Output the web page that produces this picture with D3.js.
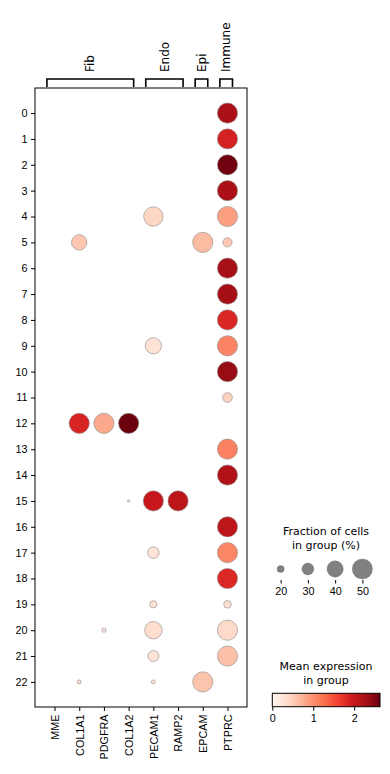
<!DOCTYPE html>
<html>
<head>
<meta charset="utf-8">
<script src="https://cdn.jsdelivr.net/npm/d3@7"></script>
<style>
  body { margin: 0; background: #fff; }
  svg { display: block; font-family: "DejaVu Sans", sans-serif; }
</style>
</head>
<body>
<svg id="chart" width="390" height="774"></svg>
<script>
// clusters (rows) and marker genes (columns)
const clusters = ["0","1","2","3","4","5","6","7","8","9","10","11","12","13","14","15","16","17","18","19","20","21","22"];
const genes = ["MME", "COL1A1", "PDGFRA", "COL1A2", "PECAM1", "RAMP2", "EPCAM", "PTPRC"];

// gene groups: label, first gene, last gene
const groupLabels = ["Fib", "Endo", "Epi", "Immune"];
const groupStart = ["MME", "PECAM1", "EPCAM", "PTPRC"];
const groupEnd = ["COL1A2", "RAMP2", "EPCAM", "PTPRC"];

// fraction of cells expressing (%), one row per cluster, columns = genes
const fraction = [
	[0, 0, 0, 0, 0, 0, 0, 50],
	[0, 0, 0, 0, 0, 0, 0, 50],
	[0, 0, 0, 0, 0, 0, 0, 50],
	[0, 0, 0, 0, 0, 0, 0, 50],
	[0, 0, 0, 0, 48, 0, 0, 50],
	[0, 38, 0, 0, 0, 0, 50, 24],
	[0, 0, 0, 0, 0, 0, 0, 50],
	[0, 0, 0, 0, 0, 0, 0, 50],
	[0, 0, 0, 0, 0, 0, 0, 50],
	[0, 0, 0, 0, 40, 0, 0, 50],
	[0, 0, 0, 0, 0, 0, 0, 50],
	[0, 0, 0, 0, 0, 0, 0, 25],
	[0, 50, 50, 50, 0, 0, 0, 0],
	[0, 0, 0, 0, 0, 0, 0, 50],
	[0, 0, 0, 0, 0, 0, 0, 50],
	[0, 0, 0, 12.5, 50, 50, 0, 0],
	[0, 0, 0, 0, 0, 0, 0, 50],
	[0, 0, 0, 0, 29, 0, 0, 50],
	[0, 0, 0, 0, 0, 0, 0, 50],
	[0, 0, 0, 0, 20, 0, 0, 21],
	[0, 0, 15, 0, 43, 0, 0, 50],
	[0, 0, 0, 0, 28, 0, 0, 50],
	[0, 14.5, 0, 0, 14.5, 0, 50, 0]
];

// mean expression in group
const meanExpr = [
	[0, 0, 0, 0, 0, 0, 0, 2.25],
	[0, 0, 0, 0, 0, 0, 0, 1.89],
	[0, 0, 0, 0, 0, 0, 0, 2.59],
	[0, 0, 0, 0, 0, 0, 0, 2.26],
	[0, 0, 0, 0, 0.42, 0, 0, 0.88],
	[0, 0.55, 0, 0, 0, 0, 0.65, 0.55],
	[0, 0, 0, 0, 0, 0, 0, 2.28],
	[0, 0, 0, 0, 0, 0, 0, 2.30],
	[0, 0, 0, 0, 0, 0, 0, 1.84],
	[0, 0, 0, 0, 0.30, 0, 0, 1.10],
	[0, 0, 0, 0, 0, 0, 0, 2.37],
	[0, 0, 0, 0, 0, 0, 0, 0.45],
	[0, 1.86, 0.80, 2.61, 0, 0, 0, 0],
	[0, 0, 0, 0, 0, 0, 0, 1.13],
	[0, 0, 0, 0, 0, 0, 0, 2.20],
	[0, 0, 0, 0.30, 2.00, 2.10, 0, 0],
	[0, 0, 0, 0, 0, 0, 0, 2.10],
	[0, 0, 0, 0, 0.28, 0, 0, 1.08],
	[0, 0, 0, 0, 0, 0, 0, 1.82],
	[0, 0, 0, 0, 0.30, 0, 0, 0.33],
	[0, 0, 0.25, 0, 0.35, 0, 0, 0.38],
	[0, 0, 0, 0, 0.30, 0, 0, 0.62],
	[0, 0.30, 0, 0, 0.25, 0, 0.58, 0]
];

const sizeLegendValues = [20, 30, 40, 50];
const colorTicks = [0, 1, 2];
const colorMax = 2.63;
const redsColors = ["#fff5f0", "#fee0d2", "#fcbba1", "#fc9272", "#fb6a4a", "#ef3b2c", "#cb181d", "#a50f15", "#67000d"];

const svg = d3.select("#chart");
const FRAME = { left: 35, right: 247, top: 88, bottom: 707 };

let xScale = d3.scalePoint()
		.domain(genes)
		.range([FRAME.left, FRAME.right])
		.padding(0.79),
	yScale = d3.scalePoint()
		.domain(clusters)
		.range([FRAME.top, FRAME.bottom])
		.padding(0.97);

// matplotlib "Reds" (linear segments through the brewer colours)
const color = d3.scaleLinear()
	.domain(d3.range(redsColors.length).map(i => i * colorMax / (redsColors.length - 1)))
	.range(redsColors)
	.interpolate(d3.interpolateRgb)
	.clamp(true);

// scanpy sizing: (frac - dot_min) / (dot_max - dot_min), area ~ ^1.5
const fracNorm = d3.scaleLinear().domain([10, 50]).range([0, 1]).clamp(true);
const radius = d3.scalePow().exponent(0.75).domain([0, 1]).range([0, 10.1]);

// frame
svg.append("rect")
	.attr("x", FRAME.left).attr("y", FRAME.top)
	.attr("width", FRAME.right - FRAME.left)
	.attr("height", FRAME.bottom - FRAME.top)
	.attr("fill", "none").attr("stroke", "#000").attr("stroke-width", 1);

// dots
let dots = [];
for (let r = 0; r < clusters.length; r++) {
	for (let c = 0; c < genes.length; c++) {
		if (fraction[r][c] > 0)
			dots.push({ row: clusters[r], gene: genes[c], frac: fraction[r][c], value: meanExpr[r][c] });
	}
}

svg.append("g").selectAll("circle")
	.data(dots)
	.enter().append("circle")
	.attr("cx", d => xScale(d.gene))
	.attr("cy", d => yScale(d.row))
	.attr("r", d => Math.max(radius(fracNorm(d.frac)), 1.2))
	.attr("fill", d => color(d.value))
	.attr("stroke", "#8c8c8c")
	.attr("stroke-width", 0.6);

// axes
let yAxis = svg.append("g")
	.attr("transform", "translate(" + FRAME.left + ",0)")
	.call(d3.axisLeft(yScale).tickSize(4).tickPadding(3.5));
yAxis.select(".domain").remove();
yAxis.selectAll("text").attr("font-size", "10.8px").attr("fill", "#000");

let xAxis = svg.append("g")
	.attr("transform", "translate(0," + FRAME.bottom + ")")
	.call(d3.axisBottom(xScale).tickSize(4).tickPadding(3.5));
xAxis.select(".domain").remove();
xAxis.selectAll("text")
	.attr("font-size", "10.8px")
	.attr("fill", "#000")
	.attr("transform", "rotate(-90)")
	.attr("text-anchor", "end")
	.attr("x", -7.5)
	.attr("y", 0)
	.attr("dy", "0.35em");

// gene group brackets
const bracketTop = 79, bracketBottom = 87;
for (let i = 0; i < groupLabels.length; i++) {
	let x0 = xScale(groupStart[i]) - 7.6,
		x1 = xScale(groupEnd[i]) + 5;
	svg.append("path")
		.attr("d", "M" + x0 + "," + bracketBottom + "V" + bracketTop + "H" + x1 + "V" + bracketBottom)
		.attr("fill", "none")
		.attr("stroke", "#000")
		.attr("stroke-width", 1.6);
	let cx = (x0 + x1) / 2;
	svg.append("text")
		.attr("transform", "translate(" + cx + "," + (bracketTop - 7) + ") rotate(-90)")
		.attr("dy", "0.35em")
		.attr("font-size", "12px")
		.text(groupLabels[i]);
}

// size legend
const sizeLegend = svg.append("g");
sizeLegend.append("text")
	.attr("x", 326).attr("y", 535)
	.attr("text-anchor", "middle").attr("font-size", "11px")
	.text("Fraction of cells");
sizeLegend.append("text")
	.attr("x", 326).attr("y", 549)
	.attr("text-anchor", "middle").attr("font-size", "11px")
	.text("in group (%)");

let sizeX = d3.scalePoint()
	.domain(sizeLegendValues)
	.range([267, 376])
	.padding(0.5);

sizeLegend.selectAll("circle")
	.data(sizeLegendValues)
	.enter().append("circle")
	.attr("cx", d => sizeX(d))
	.attr("cy", 569)
	.attr("r", d => radius(fracNorm(d)))
	.attr("fill", "#808080")
	.attr("stroke", "#555")
	.attr("stroke-width", 0.3);

let sizeAxis = sizeLegend.append("g")
	.attr("transform", "translate(0,580)")
	.call(d3.axisBottom(sizeX).tickSize(3.5).tickPadding(4));
sizeAxis.select(".domain").remove();
sizeAxis.selectAll("text").attr("font-size", "10.8px").attr("fill", "#000");

// colour bar
const cbar = { x0: 272.3, x1: 380, y0: 693.3, y1: 706.7 };
let cbarX = d3.scaleLinear().domain([0, colorMax]).range([cbar.x0, cbar.x1]);

const grad = svg.append("defs").append("linearGradient")
	.attr("id", "reds").attr("x1", "0%").attr("x2", "100%");
grad.selectAll("stop")
	.data(d3.range(0, 1.0001, 0.05))
	.enter().append("stop")
	.attr("offset", d => (d * 100) + "%")
	.attr("stop-color", d => color(d * colorMax));

svg.append("text")
	.attr("x", 326).attr("y", 670)
	.attr("text-anchor", "middle").attr("font-size", "11px")
	.text("Mean expression");
svg.append("text")
	.attr("x", 326).attr("y", 684)
	.attr("text-anchor", "middle").attr("font-size", "11px")
	.text("in group");

svg.append("rect")
	.attr("x", cbar.x0).attr("y", cbar.y0)
	.attr("width", cbar.x1 - cbar.x0).attr("height", cbar.y1 - cbar.y0)
	.attr("fill", "url(#reds)")
	.attr("stroke", "#000").attr("stroke-width", 1);

let cAxis = svg.append("g")
	.attr("transform", "translate(0," + cbar.y1 + ")")
	.call(d3.axisBottom(cbarX).tickValues(colorTicks).tickFormat(d3.format("d")).tickSize(4).tickPadding(3.5));
cAxis.select(".domain").remove();
cAxis.selectAll("text").attr("font-size", "10.8px").attr("fill", "#000");
</script>
</body>
</html>
